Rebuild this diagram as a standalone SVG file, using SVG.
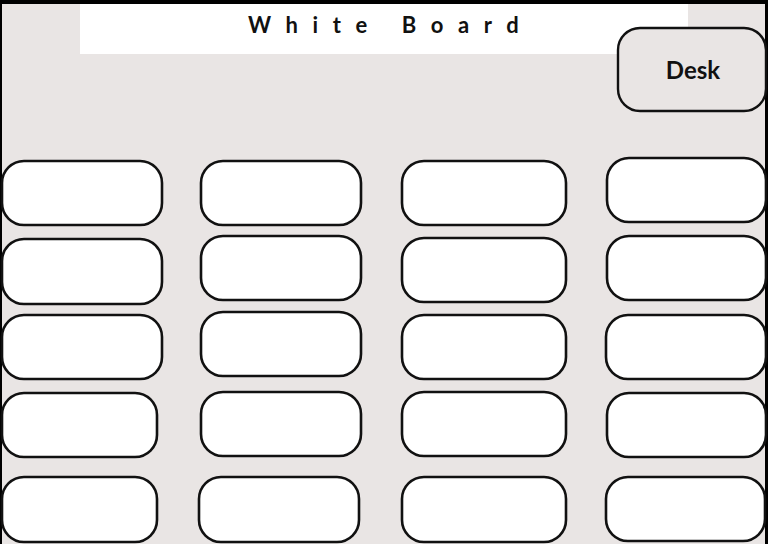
<svg xmlns="http://www.w3.org/2000/svg" width="768" height="544" viewBox="0 0 768 544">
<style>
.seat{fill:#ffffff;stroke:#111111;stroke-width:2.6}
.desk{fill:#E9E5E4;stroke:#111111;stroke-width:2.4}
.t{font-family:Lato,"Liberation Sans",sans-serif;font-weight:bold;fill:#111111}
</style>
<rect x="0" y="0" width="768" height="544" fill="#E9E5E4"/>
<rect x="0" y="0" width="768" height="4" fill="#000"/>
<rect x="0" y="0" width="2" height="544" fill="#000"/>
<rect x="765" y="0" width="3" height="544" fill="#000"/>
<g id="whiteboard">
<rect x="80" y="4" width="608" height="50" fill="#ffffff"/>
<text class="t" x="248" y="33" font-size="22" letter-spacing="14.6">White Board</text>
</g>
<g id="desk">
<rect class="desk" x="618" y="28" width="148" height="83" rx="22"/>
<text class="t" x="693" y="78.5" font-size="24" text-anchor="middle">Desk</text>
</g>
<g id="seats">
<g id="r1c1"><rect class="seat" x="2" y="161" width="160" height="64" rx="22"/></g>
<g id="r1c2"><rect class="seat" x="201" y="161" width="160" height="64" rx="22"/></g>
<g id="r1c3"><rect class="seat" x="402" y="161" width="164" height="64" rx="22"/></g>
<g id="r1c4"><rect class="seat" x="607" y="158" width="159" height="64" rx="22"/></g>
<g id="r2c1"><rect class="seat" x="2" y="239" width="160" height="65" rx="22"/></g>
<g id="r2c2"><rect class="seat" x="201" y="236" width="160" height="64" rx="22"/></g>
<g id="r2c3"><rect class="seat" x="402" y="238" width="164" height="64" rx="22"/></g>
<g id="r2c4"><rect class="seat" x="607" y="236" width="159" height="64" rx="22"/></g>
<g id="r3c1"><rect class="seat" x="2" y="315" width="160" height="64" rx="22"/></g>
<g id="r3c2"><rect class="seat" x="201" y="312" width="160" height="64" rx="22"/></g>
<g id="r3c3"><rect class="seat" x="402" y="315" width="164" height="64" rx="22"/></g>
<g id="r3c4"><rect class="seat" x="606" y="315" width="160" height="64" rx="22"/></g>
<g id="r4c1"><rect class="seat" x="2" y="393" width="155" height="64" rx="22"/></g>
<g id="r4c2"><rect class="seat" x="201" y="392" width="160" height="64" rx="22"/></g>
<g id="r4c3"><rect class="seat" x="402" y="392" width="164" height="64" rx="22"/></g>
<g id="r4c4"><rect class="seat" x="607" y="393" width="159" height="64" rx="22"/></g>
<g id="r5c1"><rect class="seat" x="2" y="477" width="155" height="65" rx="22"/></g>
<g id="r5c2"><rect class="seat" x="199" y="477" width="160" height="65" rx="22"/></g>
<g id="r5c3"><rect class="seat" x="402" y="477" width="164" height="65" rx="22"/></g>
<g id="r5c4"><rect class="seat" x="606" y="477" width="159" height="64" rx="22"/></g>
</g>
<g id="connectors"></g>
</svg>
